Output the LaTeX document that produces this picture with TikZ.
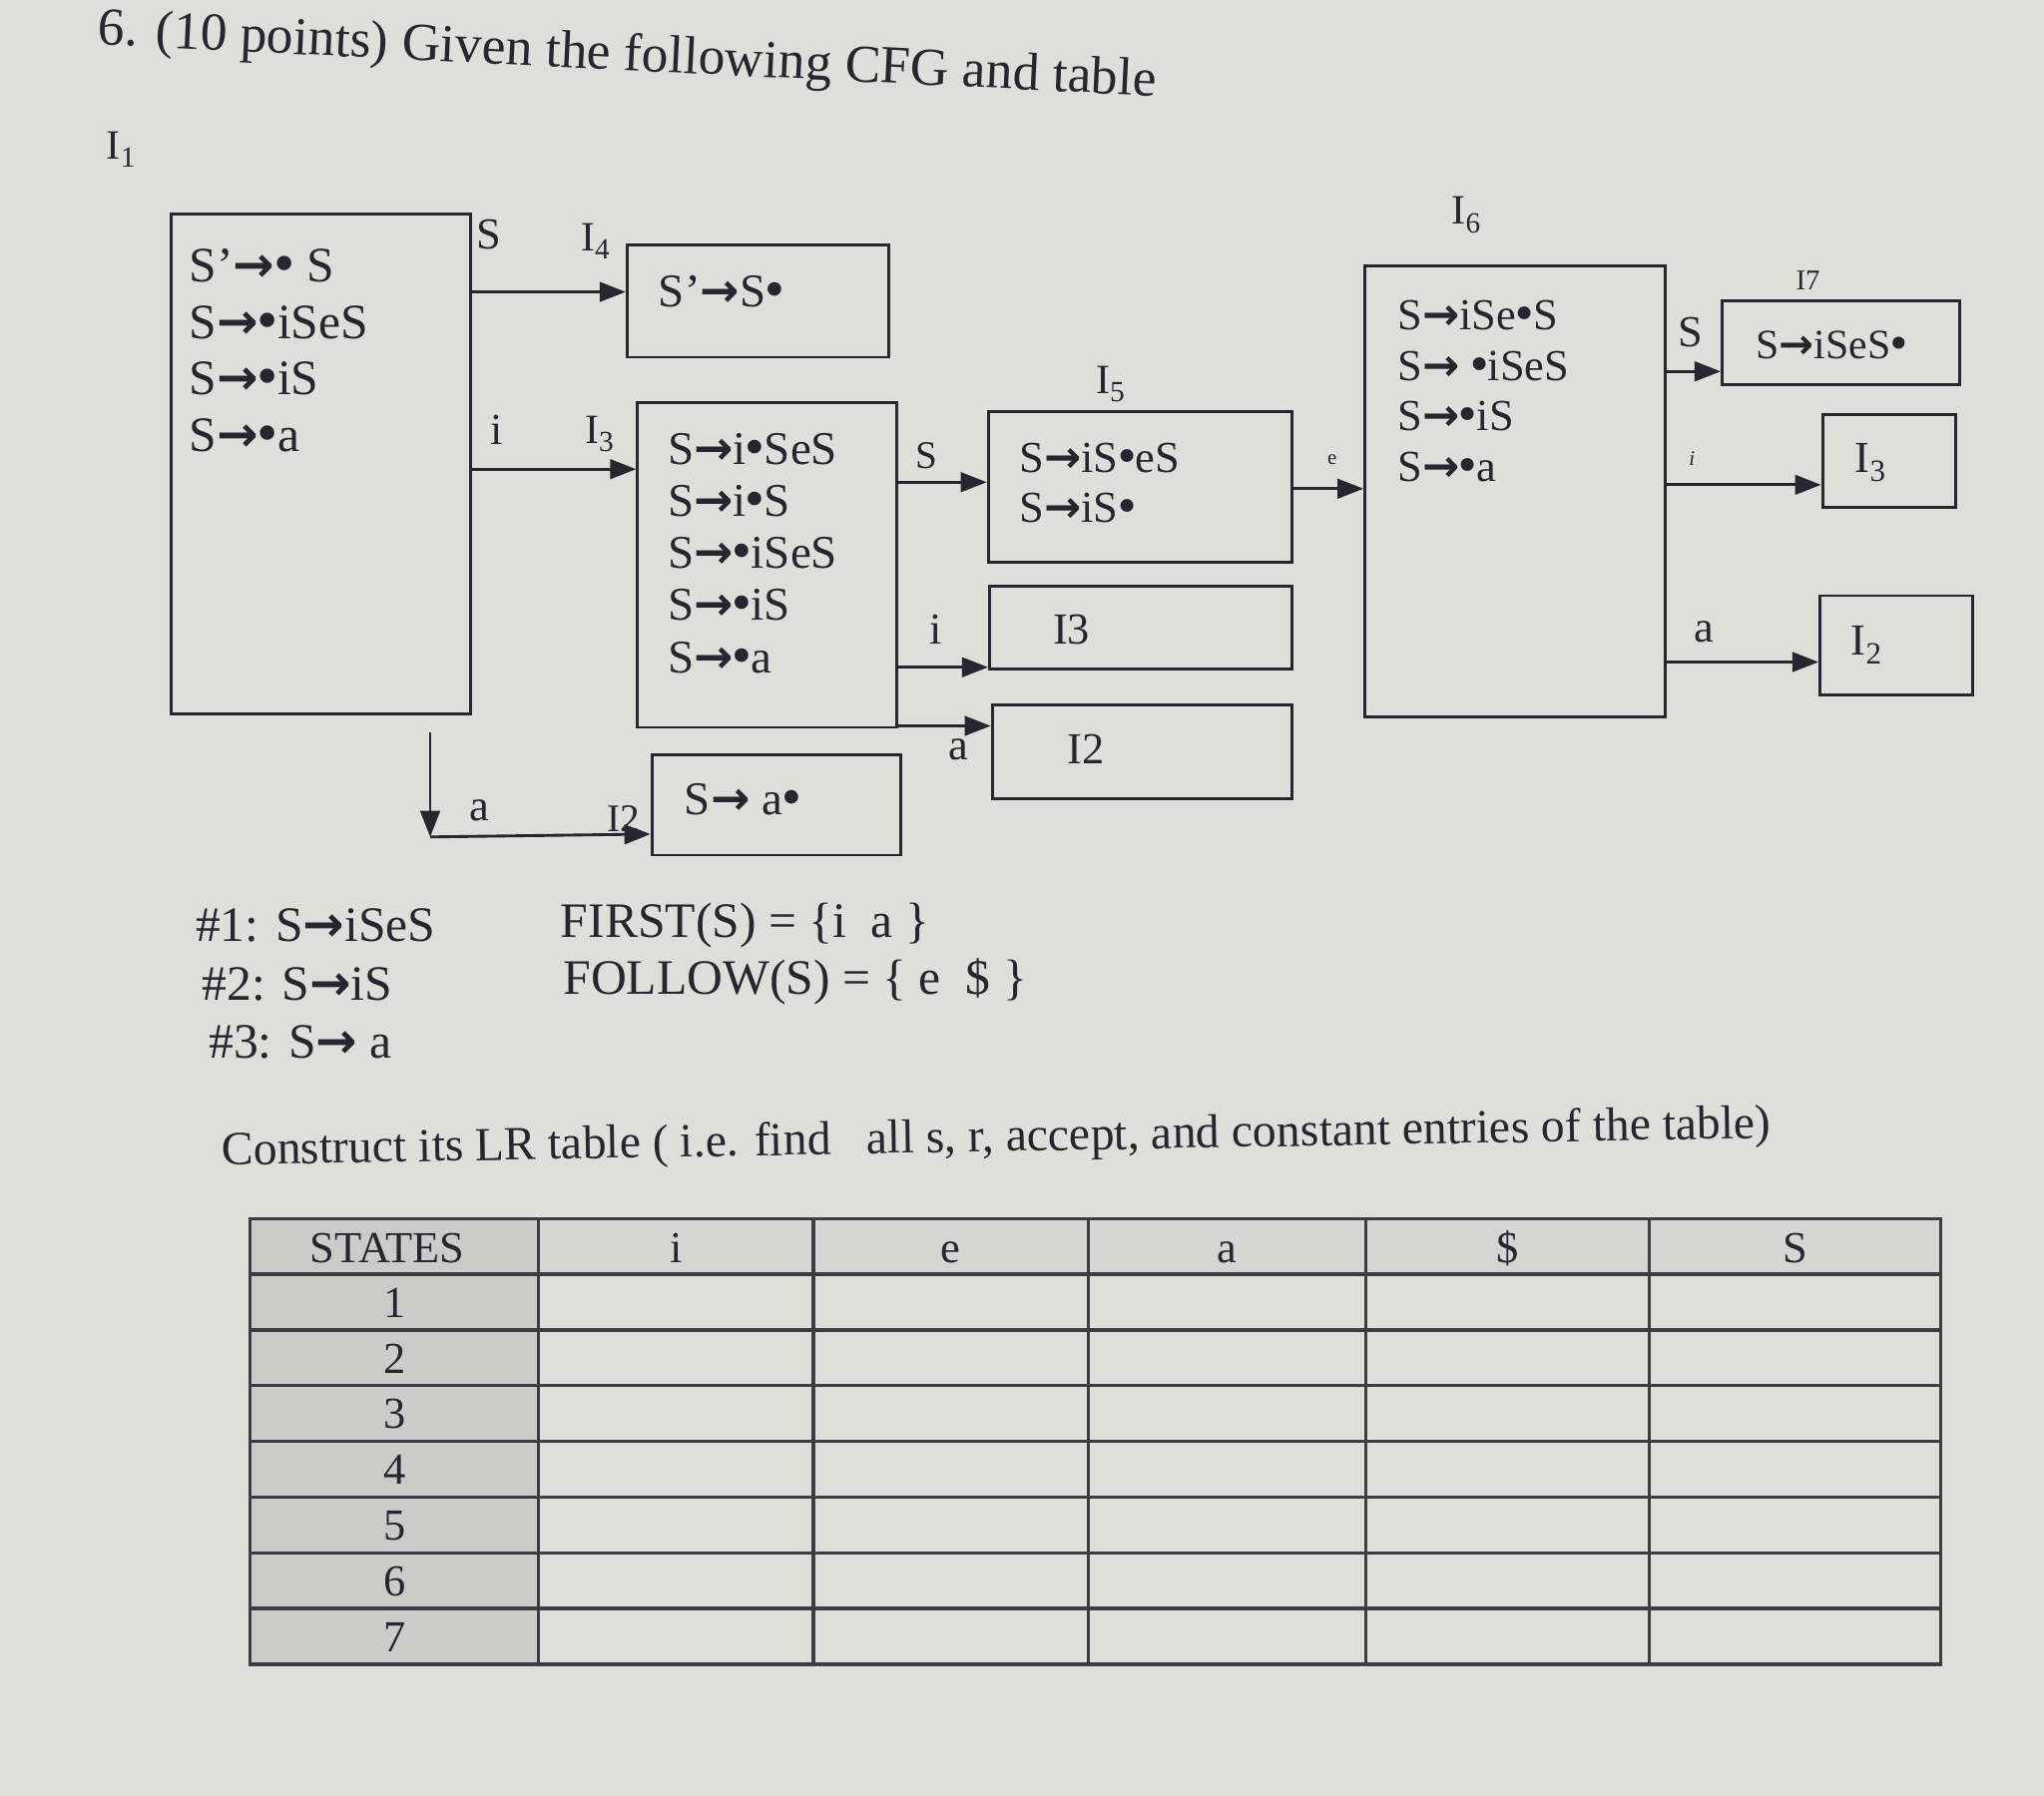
\documentclass[tikz,border=0pt]{standalone}
\usepackage{fontspec}
\setmainfont{Liberation Serif}
\newfontfamily\arrfont{DejaVu Sans}
\usetikzlibrary{arrows.meta,calc}
\definecolor{paper}{RGB}{222,222,219}
\definecolor{ink}{RGB}{38,38,48}
\definecolor{statecol}{RGB}{203,203,202}
\definecolor{headrow}{RGB}{213,213,212}
\newcommand{\ra}{{\arrfont\bfseries →}}
\newcommand{\bu}{{\arrfont\kern-0.1em•\kern-0.1em}}
\newcommand{\fs}[2]{\fontsize{#1}{#2}\selectfont}
\begin{document}
\begin{tikzpicture}[x=1pt,y=-1pt,
  box/.style={draw=ink, line width=2.2pt, inner sep=0pt, anchor=north west},
  itemtxt/.style={anchor=north west, align=left, inner sep=0pt, text=ink, font={\fs{36}{40}}},
  lbl/.style={text=ink, inner sep=0pt, font={\fs{34}{38}}},
  txt/.style={text=ink, inner sep=0pt, anchor=west, font={\fs{38}{42}}},
  tt/.style={text=ink, inner sep=0pt, anchor=base, font={\fs{34}{38}}},
  arr/.style={draw=ink, line width=2.2pt, -{Triangle[length=20pt,width=15pt]}},
  tbl/.style={draw=ink!90, line width=2.5pt, line cap=rect},
]
\fill[paper] (0,0) rectangle (1568,1378);
\useasboundingbox (0,0) rectangle (1568,1378);

% title
\node[txt, rotate=-2.8, font={\fs{41}{45}}] (title) at (75,24) {6. (10 points) Given the following CFG and table};
\node[lbl, font={\fs{32}{36}}] (n1) at (93,115) {I\textsubscript{1}};

% boxes
\node[box, minimum width=230pt, minimum height=384pt] (I1) at (130,163) {};
\node[box, minimum width=201pt, minimum height=86pt]  (I4) at (480,187) {};
\node[box, minimum width=199pt, minimum height=249pt] (I3) at (488,308) {};
\node[box, minimum width=191pt, minimum height=77pt]  (I2) at (499,578) {};
\node[box, minimum width=233pt, minimum height=115pt] (I5) at (757,315) {};
\node[box, minimum width=232pt, minimum height=63pt]  (B13) at (758,449) {};
\node[box, minimum width=230pt, minimum height=72pt]  (B12) at (760,540) {};
\node[box, minimum width=230pt, minimum height=346pt] (I6) at (1046,203) {};
\node[box, minimum width=182pt, minimum height=64pt]  (I7) at (1320,230) {};
\node[box, minimum width=102pt, minimum height=71pt]  (R3) at (1397,317) {};
\node[box, minimum width=117pt, minimum height=76pt]  (R2) at (1395,456) {};

% box contents
\node[itemtxt, font={\fs{38}{43.3}}] (I1t) at (145,191) {S’\ra\bu\ S\\S\ra\bu iSeS\\S\ra\bu iS\\S\ra\bu a};
\node[itemtxt] (I4t) at (505,211) {S’\ra S\bu};
\node[itemtxt] (I3t) at (512,332) {S\ra i\bu SeS\\S\ra i\bu S\\S\ra\bu iSeS\\S\ra\bu iS\\S\ra\bu a};
\node[itemtxt] (I2t) at (525,601) {S\ra\ a\bu};
\node[itemtxt, font={\fs{34}{38}}] (I5t) at (782,340) {S\ra iS\bu eS\\S\ra iS\bu};
\node[itemtxt, font={\fs{34}{39}}] (I6t) at (1072,230) {S\ra iSe\bu S\\S\ra\ \bu iSeS\\S\ra\bu iS\\S\ra\bu a};
\node[lbl, font={\fs{32}{36}}] (I7t) at (1405,265) {S\ra iSeS\bu};
\node[lbl] (B13t) at (822,483) {I3};
\node[lbl] (B12t) at (833,575) {I2};
\node[lbl] (R3t) at (1435,355) {I\textsubscript{3}};
\node[lbl] (R2t) at (1432,495) {I\textsubscript{2}};

% labels
\node[lbl] (l14) at (375,180) {S};
\node[lbl, font={\fs{32}{34}}] (n4) at (457,185) {I\textsubscript{4}};
\node[lbl] (l13) at (381,330) {i};
\node[lbl, font={\fs{32}{34}}] (n3) at (460,333) {I\textsubscript{3}};
\node[lbl] (l12) at (368,622) {a};
\node[lbl, font={\fs{30}{34}}] (n2) at (478,628) {I2};
\node[lbl, font={\fs{30}{34}}] (l35) at (711,350) {S};
\node[lbl, font={\fs{32}{34}}] (n5) at (852,295) {I\textsubscript{5}};
\node[lbl] (l3b) at (718,483) {i};
\node[lbl] (l3c) at (735,575) {a};
\node[lbl, font={\fs{16}{18}}] (l56) at (1022,353) {e};
\node[lbl, font={\fs{32}{34}}] (n6) at (1125,165) {I\textsubscript{6}};
\node[lbl] (l67) at (1297,255) {S};
\node[lbl, font={\fs{22}{24}}] (n7) at (1387,215) {I7};
\node[lbl, font={\fs{16}{18}\itshape}] (l6r3) at (1298,352) {i};
\node[lbl] (l6r2) at (1307,485) {a};

% connectors
\draw[arr] ($(I1.north east)+(0,61)$) -- ($(I4.north west)+(0,37)$);
\draw[arr] ($(I1.north east)+(0,197)$) -- ($(I3.north west)+(0,52)$);
\coordinate (dn) at ($(I1.south west)+(200,13)$);
\coordinate (cr) at ($(I1.south west)+(200,93)$);
\draw[arr] (dn) -- (cr);
\draw[arr] (cr) -- ($(I2.north west)+(0,62)$);
\draw[arr] ($(I3.north east)+(0,62)$) -- ($(I5.north west)+(0,55)$);
\draw[arr] ($(I3.north east)+(0,204)$) -- ($(B13.north west)+(0,63)$);
\draw[arr] ($(I3.north east)+(0,249)$) -- ($(B12.north west)+(0,17)$);
\draw[arr] ($(I5.north east)+(0,60)$) -- ($(I6.north west)+(0,172)$);
\draw[arr] ($(I6.north east)+(0,82)$) -- ($(I7.north west)+(0,55)$);
\draw[arr] ($(I6.north east)+(0,169)$) -- ($(R3.north west)+(0,55)$);
\draw[arr] ($(I6.north east)+(0,305)$) -- ($(R2.north west)+(0,52)$);

% grammar and sets
\node[txt] (g1) at (150,710) {\#1: S\ra iSeS};
\node[txt] (g2) at (155,755) {\#2: S\ra iS};
\node[txt] (g3) at (160,800) {\#3: S\ra\ a};
\node[txt] (f1) at (430,710) {FIRST(S) = \{i\ \ a \}};
\node[txt] (f2) at (432,753) {FOLLOW(S) = \{ e\ \ \$ \}};

\node[txt, rotate=1, font={\fs{36.5}{40}}] (task) at (170,885) {Construct its LR table ( i.e. find \ \ all s, r, accept, and constant entries of the table)};

% table
\fill[statecol] (192,935) rectangle (413,1277);
\fill[headrow] (413,935) rectangle (1489,977.75);
\foreach \k in {0,...,8} \draw[tbl] (192,{935+42.75*\k}) -- (1489,{935+42.75*\k});
\foreach \x in {192,413,624,835,1048,1265,1489} \draw[tbl] (\x,935) -- (\x,1277);
\node[tt] (hst) at (297,969) {STATES};
\node[tt] (hi) at (518.5,969) {i};
\node[tt] (he) at (729.5,969) {e};
\node[tt] (ha) at (941.5,969) {a};
\node[tt] (hd) at (1156.5,969) {\$};
\node[tt] (hs) at (1377,969) {S};
\foreach \i in {1,...,7} \node[tt] (s\i) at (302.5,{935+42.75*\i+33}) {\i};
\end{tikzpicture}
\end{document}
